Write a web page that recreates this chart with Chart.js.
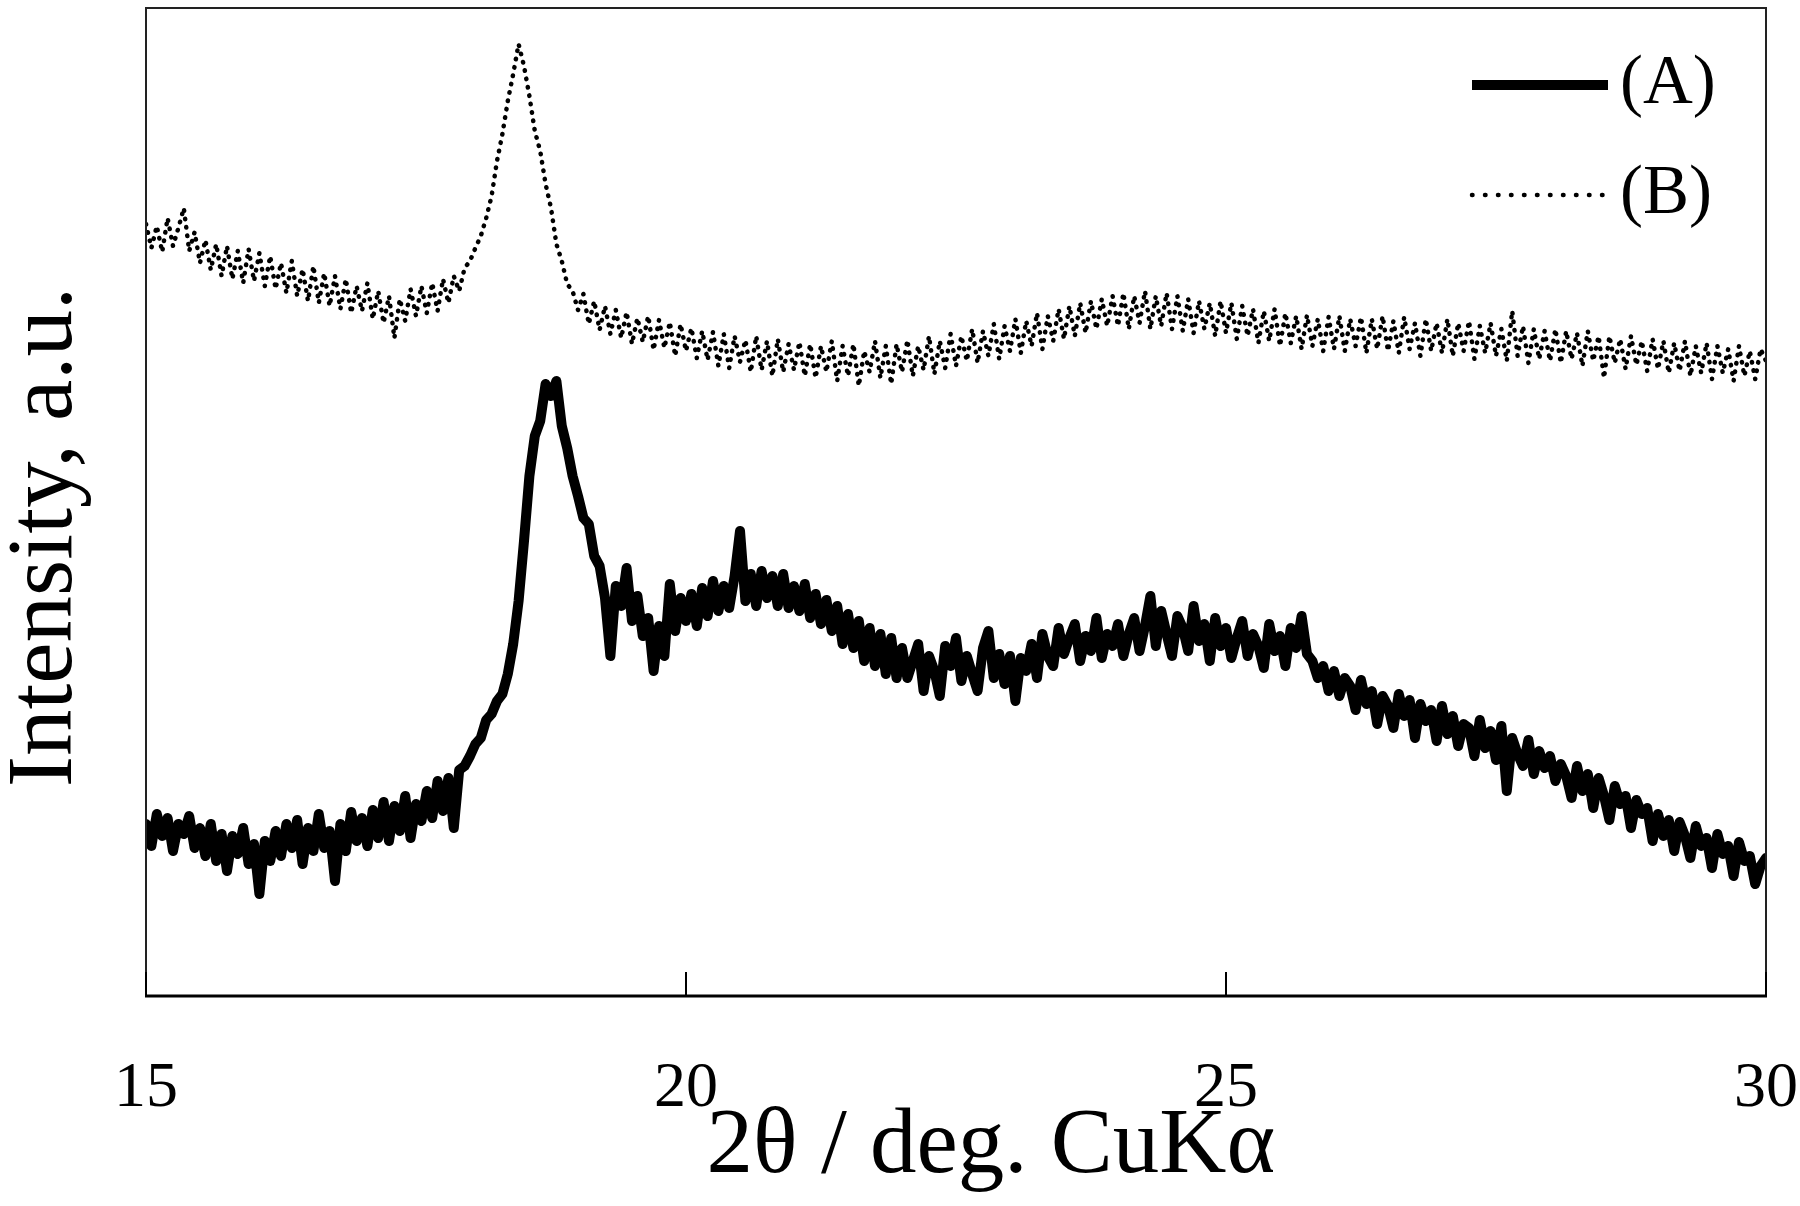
<!DOCTYPE html>
<html>
<head>
<meta charset="utf-8">
<script src="https://cdn.jsdelivr.net/npm/chart.js@4.4.1/dist/chart.umd.min.js"></script>
<style>
  html, body { margin: 0; padding: 0; background: #fff; }
  canvas { display: block; }
</style>
</head>
<body>
<canvas id="xrd" width="1800" height="1206"></canvas>
<script>
// scan: 2theta from 15 to 30 deg, one reading every 0.05 deg
const startAngle = 15;
const angleStep = 0.05;
const xTicks = [15, 20, 25, 30];
const seriesNames = ["(A)", "(B)"];

// intensity, arbitrary units, one row per degree
const intensityA = [
  172, 150, 182, 160, 178, 145, 172, 162, 180, 148, 168, 140, 172, 135, 162, 125, 160, 142, 168, 132,
  152, 102, 155, 135, 165, 140, 172, 148, 176, 132, 168, 145, 182, 148, 165, 115, 172, 145, 184, 155,
  178, 150, 186, 158, 194, 155, 190, 165, 200, 158, 192, 175, 205, 178, 215, 185, 218, 168, 226, 230,
  240, 252, 258, 276, 282, 295, 302, 322, 352, 395, 455, 520, 560, 575, 612, 600, 615, 570, 548, 520,
  500, 478, 472, 440, 430, 398, 340, 410, 390, 428, 375, 400, 360, 378, 325, 370, 340, 412, 365, 398,
  375, 402, 370, 408, 380, 415, 385, 410, 388, 420, 465, 395, 422, 390, 425, 398, 420, 390, 422, 388,
  410, 385, 412, 378, 402, 372, 396, 365, 390, 352, 382, 348, 375, 335, 368, 330, 362, 322, 358, 318,
  348, 318, 335, 352, 305, 340, 325, 300, 350, 330, 358, 315, 340, 322, 305, 348, 365, 318, 342, 312,
  340, 295, 338, 325, 352, 318, 362, 340, 330, 368, 342, 358, 372, 335, 360, 345, 378, 338, 362, 350,
  372, 340, 362, 378, 345, 370, 400, 350, 385, 362, 340, 380, 368, 345, 390, 355, 372, 335, 378, 350,
  368, 338, 358, 375, 340, 362, 350, 328, 372, 345, 360, 330, 368, 348, 380, 342, 335, 318, 330, 305,
  325, 300, 318, 310, 286, 316, 292, 305, 272, 300, 290, 268, 302, 280, 296, 258, 292, 275, 286, 255,
  290, 262, 280, 250, 272, 268, 240, 276, 248, 265, 236, 270, 205, 258, 242, 230, 256, 222, 245, 228,
  240, 215, 232, 220, 198, 230, 205, 222, 188, 218, 200, 176, 210, 192, 200, 168, 196, 182, 188, 155,
  182, 160, 176, 145, 174, 160, 138, 170, 150, 158, 128, 162, 142, 150, 120, 154, 135, 140, 112, 130,
  138
];

const intensityB = [
  772, 748, 770, 744, 778, 750, 768, 788, 745, 764, 733, 756, 726, 752, 720, 750, 717, 745, 713, 747,
  715, 743, 710, 740, 707, 733, 703, 735, 700, 727, 695, 730, 693, 723, 690, 720, 687, 717, 683, 710,
  685, 713, 677, 705, 673, 700, 658, 697, 675, 707, 680, 710, 683, 713, 685, 717, 693, 720, 705, 728,
  735, 748, 760, 778, 800, 835, 862, 895, 922, 952, 930, 900, 865, 845, 812, 788, 752, 735, 712, 705,
  686, 702, 672, 695, 666, 690, 662, 686, 658, 684, 652, 678, 654, 680, 646, 676, 648, 674, 640, 672,
  645, 668, 638, 665, 636, 664, 630, 662, 628, 660, 634, 656, 624, 660, 626, 655, 620, 657, 624, 652,
  626, 654, 620, 652, 618, 650, 624, 655, 615, 650, 620, 652, 610, 645, 624, 655, 618, 650, 612, 652,
  624, 656, 620, 650, 626, 660, 622, 655, 628, 662, 630, 660, 635, 667, 633, 665, 640, 672, 637, 670,
  645, 677, 643, 675, 650, 683, 647, 680, 655, 687, 657, 690, 660, 693, 663, 695, 667, 697, 670, 700,
  670, 703, 667, 700, 673, 705, 667, 700, 670, 703, 667, 700, 665, 697, 663, 695, 667, 693, 660, 695,
  663, 693, 657, 690, 660, 687, 653, 685, 655, 687, 650, 683, 653, 680, 647, 681, 650, 677, 645, 679,
  647, 680, 645, 677, 650, 679, 643, 677, 647, 680, 645, 675, 643, 679, 647, 673, 640, 677, 645, 673,
  643, 677, 640, 673, 645, 675, 637, 670, 643, 673, 640, 667, 635, 685, 640, 670, 633, 667, 637, 665,
  635, 667, 633, 665, 637, 663, 630, 665, 635, 660, 618, 660, 633, 657, 627, 660, 631, 655, 625, 657,
  627, 655, 623, 653, 625, 655, 620, 650, 623, 653, 617, 650, 623, 647, 615, 650, 620, 645, 617, 647,
  635
];

function toPoints(values) {
  return values.map((v, i) => ({ x: +(startAngle + i * angleStep).toFixed(2), y: v }));
}

const serif = "'Liberation Serif', 'Times New Roman', serif";

// frame round the plot and short inward ticks on the bottom axis
const framePlugin = {
  id: "frame",
  afterDraw(chart) {
    const ctx = chart.ctx;
    const a = chart.chartArea;
    const xs = chart.scales.x;
    ctx.save();
    ctx.strokeStyle = "#222";
    ctx.lineWidth = 2;
    ctx.strokeRect(a.left, a.top, a.right - a.left, a.bottom - a.top);
    ctx.strokeStyle = "#000";
    ctx.lineWidth = 3;
    ctx.beginPath();
    ctx.moveTo(a.left - 1, a.bottom);
    ctx.lineTo(a.right + 1, a.bottom);
    ctx.stroke();
    ctx.lineWidth = 2;
    xs.ticks.forEach(t => {
      const px = xs.getPixelForValue(t.value);
      ctx.beginPath();
      ctx.moveTo(px, a.bottom);
      ctx.lineTo(px, a.bottom - 24);
      ctx.stroke();
    });
    ctx.restore();
  }
};

// legend sits inside the plot, top right
const insideLegend = {
  id: "insideLegend",
  afterDraw(chart) {
    const ctx = chart.ctx;
    const a = chart.chartArea;
    const x0 = a.right - 294;
    const x1 = a.right - 158;
    ctx.save();
    chart.data.datasets.forEach((ds, i) => {
      const y = a.top + 77 + i * 110;
      ctx.strokeStyle = "#000";
      ctx.beginPath();
      if (ds.borderDash && ds.borderDash.length) {
        ctx.lineWidth = 4.5;
        ctx.lineCap = "round";
        ctx.setLineDash([0.5, 12.5]);
      } else {
        ctx.lineWidth = 10;
        ctx.lineCap = "butt";
        ctx.setLineDash([]);
      }
      ctx.moveTo(x0, y);
      ctx.lineTo(x1, y);
      ctx.stroke();
      ctx.setLineDash([]);
      ctx.fillStyle = "#000";
      ctx.font = "69px " + serif;
      ctx.textAlign = "left";
      ctx.textBaseline = "middle";
      ctx.fillText(ds.label, x1 + 12, y);
    });
    ctx.restore();
  }
};

new Chart(document.getElementById("xrd"), {
  type: "line",
  data: {
    datasets: [
      {
        label: seriesNames[0],
        data: toPoints(intensityA),
        borderColor: "#000",
        borderWidth: 10,
        borderJoinStyle: "round",
        borderCapStyle: "round",
        pointRadius: 0,
        tension: 0,
        fill: false
      },
      {
        label: seriesNames[1],
        data: toPoints(intensityB),
        borderColor: "#000",
        borderWidth: 4.5,
        borderDash: [0.5, 8],
        borderCapStyle: "round",
        borderJoinStyle: "round",
        pointRadius: 0,
        tension: 0,
        fill: false
      }
    ]
  },
  options: {
    responsive: false,
    animation: false,
    devicePixelRatio: 1,
    layout: { padding: { left: 0, right: 34, top: 8, bottom: 0 } },
    plugins: {
      legend: { display: false },
      tooltip: { enabled: false }
    },
    scales: {
      x: {
        type: "linear",
        min: 15,
        max: 30,
        afterBuildTicks(scale) {
          scale.ticks = xTicks.map(v => ({ value: v }));
        },
        afterFit(scale) {
          // let the last label run past the edge, as in the original
          scale.paddingLeft = 0;
          scale.paddingRight = 0;
        },
        grid: { display: false, drawTicks: false },
        border: { display: false },
        ticks: {
          color: "#000",
          padding: 61,
          maxRotation: 0,
          font: { family: serif, size: 64, lineHeight: 1 }
        },
        title: {
          display: true,
          text: "   2\u03b8 / deg. CuK\u03b1",
          color: "#000",
          font: { family: serif, size: 93, lineHeight: 1 },
          padding: { top: -81, bottom: 12 }
        }
      },
      y: {
        min: 0,
        max: 988,
        grid: { display: false, drawTicks: false },
        border: { display: false },
        ticks: { display: false },
        title: {
          display: true,
          text: "Intensity, a.u.   ",
          color: "#000",
          font: { family: serif, size: 93, lineHeight: 1 },
          padding: { top: 0, bottom: 53 }
        }
      }
    }
  },
  plugins: [framePlugin, insideLegend]
});
</script>
</body>
</html>
